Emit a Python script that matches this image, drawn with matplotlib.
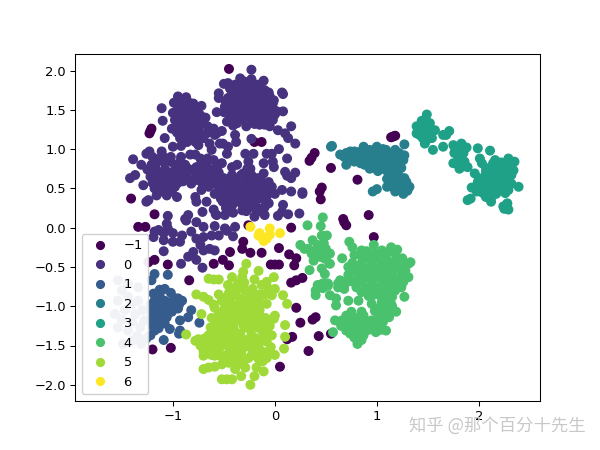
#!/usr/bin/env python3
"""Scatter of 2D points coloured by cluster label (-1 is noise)."""

import matplotlib

matplotlib.use("Agg")

import matplotlib.pyplot as plt
import numpy as np

noise_x = [-1.34, -1.27, -0.26, -0.31, -0.32, -0.24, -0.13, 0.04, 0.14, 0.21, 0.19, -0.04, 0.00, 0.04,
           -0.60, -0.51, -0.45, -0.44, -1.05, -1.18, -1.24, -0.84, 0.16, 0.21, 0.27, 0.21, 0.25, 0.37,
           0.12, 0.17, 0.33, 0.05, -1.02, -1.20, 0.16, -0.45, -1.23, -1.21, -1.22, -0.13, -0.20, -1.41,
           -1.18, 1.16, 1.14, 1.18, 0.39, 0.36, 0.34, 0.55, 0.81, 0.46, 0.44, 0.45, 0.67, 0.68, 0.70,
           0.92, 0.97, 0.40, 0.43, 0.55]
noise_y = [0.01, 0.01, 0.03, -0.18, -0.27, -0.32, -0.32, -0.26, -0.34, -0.39, -0.48, -0.47, -0.47, -0.47,
           -0.46, -0.41, -0.48, -0.31, -0.47, -0.41, -0.44, -0.67, -0.70, -0.67, -0.64, -1.02, -1.21, -1.17,
           -1.42, -1.39, -1.57, -1.77, -1.53, -1.55, 0.00, 2.02, 1.20, 1.26, 1.23, 1.09, 1.09, 0.37,
           0.17, 1.16, 1.15, 1.17, 0.95, 0.89, 0.85, 0.76, 0.61, 0.51, 0.46, 0.36, 0.11, 0.07, 0.03,
           0.16, -0.12, -1.14, -1.38, -1.35]

c0_x = [-0.23, -0.34, -0.23, -0.11, -0.46, -0.50, -0.55, -0.55, 0.07, 0.08, -0.42, -0.33, -0.20, -0.10,
        -0.05, -0.46, -0.36, -0.26, -0.16, -0.06, -0.49, -0.39, -0.29, -0.20, -0.11, 0.02, 0.08, 0.00,
        -0.47, -0.37, -0.28, -0.18, -0.15, -0.05, 0.16, 0.10, 0.13, 0.20, 0.03, -0.26, -0.36,
        -0.95, -0.87, -0.99, -0.80, -0.72, -1.11, -1.00, -1.10, -0.90, -0.83, -0.73, -0.91, -0.82, -0.98,
        -1.01, -0.90, -0.80, -0.70, -0.60, -0.52, -0.59, -0.57, -0.91, -0.82, -1.08, -1.00, -0.92, -0.70,
        -0.64, -0.75, -0.39, -0.38, -0.23, -0.51, -0.54, -0.46, -0.47, 0.04, 0.12, -0.08, -0.03, -0.02,
        -0.01, -0.11, -0.29, -0.21, -0.26, -0.24, -0.42, -0.37, 0.10, 0.20, 0.16, 0.12,
        -1.39, -1.23, -1.26, -1.11, -1.31, -1.37, -1.42, -1.29, -1.21, -1.13, -1.03, -0.93, -0.83, -0.73,
        -0.62, -0.67, -0.59, -0.52, -0.77, -0.85, -0.95, -1.05, -1.14, -1.22, -1.11, -1.01, -0.91, -0.82,
        -0.70, -0.60, -0.50, -0.42, -0.33, -0.23, -0.11, -0.10, -0.03, -0.26, -0.18, -0.36, -0.46, -0.55,
        -0.65, -0.72, -0.98, -1.08, -1.18, -1.16, -1.06, -0.96, -1.24, -1.26, -0.78, -0.77, -0.67, -0.59,
        -0.49, -0.39, -0.29, -0.20, -0.10, 0.00, 0.07, 0.16, 0.27, 0.27, 0.08, 0.07, 0.03, 0.13, 0.24,
        -0.46, -0.51, -0.26, -0.33, -0.10, -0.06, -0.10, -0.60, -0.71, -0.57, -0.49, -0.41, -0.28, -0.18,
        -0.10, -1.05, -1.06, -0.85, -0.88, -0.77, -0.70, -0.59, -0.49, -0.39,
        -0.87, -0.47, -0.41, -1.18, -1.19, -1.09, -1.00, -0.91, -0.82, -1.09, -1.00, -0.93, -0.77, -0.70,
        -0.62, -0.55, -1.09, -0.73, -0.70, -0.80, -0.85, -0.77, -0.92, -0.71, -0.59, -0.64, -1.14, -1.05,
        # dense parts of the lobes and the middle band
        -0.40, -0.30, -0.18, -0.08, -0.48, -0.41, -0.31, -0.21, -0.11, -0.02, -0.44, -0.34, -0.24, -0.15,
        -0.04, -0.42, -0.32, -0.22, -0.10, -0.02, -0.50, -0.28, -0.17, -0.39, -0.01,
        -0.93, -0.85, -0.76, -0.86, -0.96, -0.96, -0.86, -0.76, -0.66, -0.75, -0.85, -0.95, -0.87, -0.77,
        -0.67, -0.57, -0.93,
        -1.17, -1.08, -0.98, -0.88, -1.18, -1.08, -0.99, -0.90, -0.80, -0.72, -0.63, -0.55, -0.66, -0.72,
        -0.66, -0.56, -0.46, -0.38, -0.28, -0.18, -0.14, -0.07, -0.28, -0.38, -0.52, -0.44, -0.34, -0.23,
        -0.15, -0.72, -1.06, -0.95, -1.16, -1.12, -1.01, -0.27, -0.31, -0.17, -0.48, -0.42, -0.53, -0.30,
        -0.20, -0.14, -0.58,
        -0.88, -0.78, -0.68, -0.94, -0.84, -0.74, -0.96, -0.86, -0.78, -1.20, -1.10, -1.02, -0.92, -0.78,
        -0.72, -0.67, -0.60, -0.55, -1.25, -1.16, -1.06, -0.96, -0.86, -0.76, -0.66, -0.58, -1.20, -1.10,
        -1.00, -0.90, -0.79, -0.60, -0.50, -0.42, -0.35, -0.45, -0.33, -0.23, -0.14, -0.06, -0.06, -0.24,
        -0.36, -0.42, -0.30, -0.17, -0.08, -0.21, -0.32, -0.20, -0.30, -0.24, -0.44, -0.36, -0.26, -0.14,
        -0.06, -0.14, -0.24, -0.34, -0.44, -0.31, -0.21, -0.11, -0.02, -0.44, -0.34, -0.24, -0.15, -0.07,
        -0.39, -0.29, -0.19, -0.07, -0.44, -0.31, -0.20, -0.10, -0.41]
c0_y = [2.01, 1.90, 1.89, 1.87, 1.84, 1.83, 1.71, 1.65, 1.72, 1.70, 1.73, 1.77, 1.77, 1.75,
        1.67, 1.65, 1.65, 1.65, 1.65, 1.56, 1.54, 1.52, 1.52, 1.52, 1.46, 1.48, 1.48, 1.44,
        1.35, 1.33, 1.29, 1.39, 1.31, 1.29, 1.29, 1.20, 1.14, 1.07, 1.24, 1.41, 1.41,
        1.67, 1.66, 1.59, 1.58, 1.55, 1.52, 1.46, 1.36, 1.54, 1.50, 1.43, 1.43, 1.39, 1.37,
        1.26, 1.31, 1.29, 1.33, 1.26, 1.23, 1.18, 1.47, 1.20, 1.18, 1.14, 1.03, 1.04, 1.14,
        1.07, 1.05, 1.18, 1.09, 1.13, 1.07, 1.07, 1.03, 0.94, 1.00, 0.88, 0.94, 0.94, 0.84,
        0.77, 0.82, 0.94, 0.94, 0.84, 0.75, 0.77, 0.80, 0.71, 0.70, 0.63, 0.66,
        0.87, 0.97, 0.94, 0.97, 0.80, 0.67, 0.63, 0.54, 0.80, 0.88, 0.84, 0.84, 0.93, 0.88,
        0.99, 0.80, 0.75, 0.82, 0.77, 0.75, 0.73, 0.71, 0.71, 0.65, 0.60, 0.60, 0.65, 0.56,
        0.65, 0.63, 0.63, 0.67, 0.67, 0.67, 0.69, 0.56, 0.52, 0.56, 0.50, 0.56, 0.52, 0.52,
        0.52, 0.48, 0.52, 0.50, 0.50, 0.41, 0.41, 0.39, 0.35, 0.33, 0.39, 0.33, 0.33, 0.43,
        0.41, 0.43, 0.43, 0.41, 0.46, 0.43, 0.48, 0.46, 0.45, 0.43, 0.29, 0.20, 0.15, 0.17, 0.18,
        0.31, 0.33, 0.35, 0.31, 0.35, 0.31, 0.26, 0.23, 0.20, 0.16, 0.16, 0.19, 0.21, 0.20,
        0.16, 0.15, 0.05, 0.16, 0.11, 0.07, 0.01, 0.02, -0.01, 0.01,
        0.09, -0.04, -0.11, -0.05, -0.12, -0.07, -0.07, -0.10, -0.05, -0.16, -0.18, -0.18, -0.14, -0.12,
        -0.10, -0.10, -0.30, -0.22, -0.29, -0.31, -0.37, -0.41, -0.46, -0.51, -0.29, -0.27, -0.03, -0.01,
        1.70, 1.72, 1.71, 1.68, 1.60, 1.59, 1.59, 1.59, 1.59, 1.58, 1.46, 1.47, 1.47, 1.47,
        1.44, 1.36, 1.38, 1.36, 1.36, 1.37, 1.47, 1.80, 1.82, 1.82, 1.62,
        1.60, 1.60, 1.50, 1.45, 1.49, 1.40, 1.36, 1.37, 1.29, 1.25, 1.25, 1.27, 1.16, 1.17,
        1.20, 1.20, 1.14,
        0.80, 0.82, 0.80, 0.80, 0.72, 0.74, 0.71, 0.71, 0.72, 0.78, 0.73, 0.70, 0.88, 0.73,
        0.62, 0.60, 0.58, 0.62, 0.62, 0.60, 0.52, 0.50, 0.50, 0.48, 0.45, 0.40, 0.38, 0.47,
        0.44, 0.58, 0.55, 0.57, 0.58, 0.46, 0.46, 0.75, 0.69, 0.63, 0.25, 0.28, 0.37, 0.27,
        0.30, 0.24, 0.17,
        1.52, 1.46, 1.40, 1.33, 1.32, 1.20, 1.21, 1.09, 1.09, 0.90, 0.91, 0.90, 0.90, 0.93,
        0.82, 0.75, 0.86, 0.80, 0.74, 0.66, 0.66, 0.65, 0.64, 0.66, 0.68, 0.67, 0.57, 0.55,
        0.54, 0.59, 0.60, 0.56, 0.56, 0.52, 0.45, 0.45, 0.52, 0.55, 0.60, 0.58, 0.44, 0.41,
        0.35, 0.35, 0.35, 0.36, 0.40, 0.26, 0.22, 0.14, 1.86, 1.80, 1.77, 1.75, 1.75, 1.78,
        1.72, 1.70, 1.69, 1.70, 1.65, 1.65, 1.65, 1.65, 1.52, 1.55, 1.54, 1.54, 1.54, 1.50,
        1.45, 1.45, 1.45, 1.40, 1.40, 1.41, 1.32, 1.31, 1.30]

c1_x = [-1.05, -1.18, -1.21, -1.08, -1.13, -1.19, -1.54, -1.44, -1.34, -1.54, -1.44, -1.34, -1.57, -1.47,
        -1.37, -1.54, -1.44, -1.32, -1.49, -1.40, -1.31, -1.26, -1.18, -1.08, -0.98, -0.91, -1.14, -1.04,
        -0.95, -1.19, -1.11, -1.01, -1.22, -1.16, -1.08, -1.03, -1.18, -1.22, -1.09, -0.93, -0.85, -0.82,
        -0.93, -0.94, -0.74,
        -1.13, -1.03, -0.94, -1.18, -1.09, -0.99, -1.15, -1.06, -1.22, -1.22, -1.13, -1.02, -1.20, -1.14,
        -1.50, -1.40, -1.50, -1.40, -1.30, -1.28, -1.35,
        -1.10, -1.00, -1.15, -1.05, -0.95, -1.18, -1.12, -1.10]
c1_y = [-0.60, -0.59, -0.67, -0.78, -0.79, -0.84, -0.67, -0.71, -0.76, -0.93, -0.88, -0.93, -1.10, -1.05,
        -1.10, -1.27, -1.31, -1.27, -1.48, -1.44, -1.48, -1.41, -0.93, -0.93, -0.90, -0.93, -1.03, -1.03,
        -1.03, -1.12, -1.12, -1.07, -1.18, -1.20, -1.22, -1.29, -1.31, -1.37, -1.43, -1.18, -1.14, -1.05,
        -1.31, -1.35, -1.21,
        -0.93, -0.95, -0.98, -1.03, -1.06, -1.03, -1.13, -1.14, -1.07, -0.98, -0.85, -0.83, -1.25, -1.28,
        -0.80, -0.97, -1.17, -1.20, -1.05, -1.18, -1.38,
        -0.98, -0.98, -1.05, -1.08, -0.90, -1.13, -1.20, -1.02]

c2_x = [0.56, 0.55, 0.64, 0.70, 0.78, 0.87, 1.00, 1.27, 1.09, 1.18, 0.93, 0.85, 0.75, 0.70, 0.78, 0.88,
        0.96, 1.06, 1.16, 1.26, 1.27, 0.93, 1.01, 1.09, 1.19, 1.14, 1.21, 1.27, 1.13, 1.19, 1.27, 1.32,
        1.18, 1.26, 1.23, 1.00, 0.96, 1.29, 1.09, 1.00, 0.88,
        0.68, 0.74, 0.82, 0.82, 0.91, 0.96, 1.03, 1.06, 1.12, 1.22, 0.92, 1.02, 1.12, 1.22, 0.84, 0.98,
        1.04, 1.14, 1.24, 1.17, 1.24, 1.15, 1.22, 1.30, 1.10, 1.10, 1.16]
c2_y = [1.04, 1.03, 0.93, 0.95, 0.97, 1.03, 1.03, 1.06, 0.99, 0.99, 0.99, 0.95, 0.90, 0.80, 0.84, 0.80,
        0.90, 0.90, 0.90, 0.86, 0.92, 0.75, 0.72, 0.80, 0.80, 0.67, 0.67, 0.63, 0.58, 0.56, 0.54, 0.52,
        0.46, 0.43, 0.51, 0.49, 0.46, 0.58, 0.73, 0.82, 0.92,
        0.90, 0.97, 0.96, 0.88, 0.96, 0.98, 0.96, 1.00, 0.94, 0.95, 0.84, 0.85, 0.85, 0.86, 0.82, 0.76,
        0.78, 0.76, 0.76, 0.62, 0.61, 0.52, 0.49, 0.47, 0.62, 0.52, 0.71]

c3_x = [1.49, 1.52, 1.44, 1.39, 1.39, 1.49, 1.57, 1.45, 1.54, 1.47, 1.55, 1.65, 1.65, 1.71, 1.68, 1.75,
        1.83, 1.88, 1.76, 1.83, 1.75, 1.81, 1.86, 1.89, 1.99, 2.11, 2.01, 2.03, 1.96, 2.16, 2.29, 2.35,
        2.14, 2.24, 2.34, 2.32, 2.04, 2.14, 2.24, 2.04, 2.14, 2.24, 2.32, 2.39, 1.93, 2.01, 2.29, 2.17,
        2.07, 2.12, 1.92, 1.89, 2.27, 2.25, 2.29, 2.24, 2.07,
        1.43, 1.47, 1.52, 1.42, 1.48, 1.44, 2.08, 2.08, 2.19, 2.19, 2.09, 2.19, 2.29, 2.29, 1.99, 1.98,
        2.04, 2.13, 2.20, 2.29, 2.14, 2.22, 2.07, 2.00, 1.80, 1.78, 1.85, 1.80, 1.85, 2.26, 2.28,
        2.02, 2.10, 2.16, 2.22, 2.10, 2.18, 2.26, 2.12, 2.06, 2.26, 1.45, 1.50, 1.41, 1.50, 1.48, 1.77,
        1.80, 1.83, 1.98, 2.08]
c3_y = [1.44, 1.33, 1.31, 1.29, 1.20, 1.22, 1.24, 1.14, 1.14, 1.07, 0.99, 1.03, 1.18, 1.23, 1.18, 1.05,
        1.07, 1.02, 0.95, 0.92, 0.82, 0.75, 0.84, 0.77, 1.01, 0.98, 0.88, 0.82, 0.69, 0.86, 0.88, 0.84,
        0.75, 0.75, 0.73, 0.67, 0.63, 0.63, 0.63, 0.52, 0.50, 0.52, 0.56, 0.52, 0.51, 0.50, 0.48, 0.43,
        0.39, 0.33, 0.37, 0.35, 0.29, 0.24, 0.23, 0.27, 0.71,
        1.24, 1.30, 1.20, 1.18, 1.37, 1.36, 0.56, 0.65, 0.58, 0.68, 0.46, 0.48, 0.60, 0.68, 0.58, 0.46,
        0.44, 0.40, 0.78, 0.78, 0.82, 0.83, 0.76, 0.63, 0.85, 1.01, 0.95, 0.90, 0.78, 0.26, 0.31,
        0.57, 0.60, 0.55, 0.58, 0.70, 0.73, 0.70, 0.44, 0.44, 0.44, 1.27, 1.26, 1.23, 1.17, 1.10, 1.00,
        0.80, 1.02, 0.53, 0.50]

c4_x = [0.47, 0.45, 0.32, 0.46, 0.51, 0.37, 0.25, 0.29, 0.36, 0.46, 0.54, 0.44, 0.38, 0.54, 0.34, 0.46,
        0.49, 0.73, 0.76, 0.66, 0.78, 0.85, 0.97, 1.05, 1.14, 1.20, 1.33, 1.31, 0.90, 0.99, 1.09, 1.19,
        1.27, 1.31, 0.72, 0.80, 0.90, 0.99, 1.09, 1.19, 0.82, 0.91, 1.01, 1.11, 1.21, 0.64, 0.62, 0.80,
        0.90, 0.99, 1.09, 1.24, 1.27, 1.18, 0.47, 0.52, 0.42, 0.40, 0.40, 0.54, 0.60, 0.60, 0.72, 0.82,
        0.95, 1.09, 1.14, 1.19, 1.09, 0.75, 0.85, 1.03, 0.95, 0.59, 0.69, 0.77, 0.87, 1.06, 1.09, 0.99,
        0.91, 0.70, 0.80, 0.87, 0.81, 0.57, 0.65, 1.03, 0.96,
        0.85, 0.95, 1.05, 1.14, 1.24, 0.77, 0.86, 0.96, 1.05, 1.15, 1.25, 0.77, 0.86, 0.96, 1.06, 1.16,
        1.26, 0.85, 0.95, 1.04, 1.13, 1.00, 1.10, 0.93, 1.18, 1.25,
        1.05, 1.10, 1.03, 1.14, 1.12, 1.05, 0.98, 0.80, 0.70, 0.78, 0.85, 0.65, 0.92, 1.00, 1.04, 0.85, 0.74,
        0.42, 0.48, 0.40, 0.50, 0.33, 0.47, 0.50, 0.62, 0.47, 0.52,
        0.90, 1.03, 0.86, 0.76, 0.72, 0.70, 0.68, 1.17, 1.28, 0.92, 1.05, 1.15, 1.20, 1.15, 1.02, 0.88,
        0.75, 0.66, 0.72, 0.92, 0.97, 0.82, 0.85, 0.78]
c4_y = [0.13, 0.02, 0.03, -0.10, -0.10, -0.16, -0.22, -0.27, -0.33, -0.27, -0.33, -0.37, -0.42, -0.46,
        -0.54, -0.52, -0.59, -0.18, -0.25, -0.39, -0.35, -0.29, -0.22, -0.29, -0.25, -0.28, -0.44, -0.46,
        -0.39, -0.39, -0.39, -0.39, -0.50, -0.63, -0.50, -0.50, -0.52, -0.52, -0.52, -0.52, -0.63, -0.63,
        -0.63, -0.63, -0.65, -0.67, -0.76, -0.76, -0.76, -0.76, -0.73, -0.76, -0.88, -0.80, -0.71, -0.71,
        -0.73, -0.80, -0.86, -0.86, -0.90, -0.99, -0.93, -0.93, -0.97, -0.88, -0.97, -1.07, -1.05, -1.07,
        -1.07, -1.10, -1.18, -1.18, -1.20, -1.20, -1.12, -1.20, -1.31, -1.33, -1.29, -1.31, -1.35, -1.37,
        -1.48, -1.33, -0.73, -0.86, -0.86,
        -0.45, -0.45, -0.45, -0.45, -0.45, -0.56, -0.57, -0.57, -0.57, -0.57, -0.58, -0.69, -0.69, -0.69, -0.69, -0.69,
        -0.69, -0.82, -0.81, -0.81, -0.80, -0.33, -0.32, -0.33, -0.33, -0.39,
        -0.95, -0.97, -1.02, -1.05, -1.14, -1.14, -1.06, -1.15, -1.12, -1.28, -1.25, -1.25, -1.22, -1.27, -1.30, -1.32, -1.35,
        -0.22, -0.20, -0.30, -0.27, -0.27, -0.38, -0.40, -0.71, -0.77, -0.74,
        -0.30, -0.36, -0.38, -0.45, -0.60, -0.70, -0.78, -0.45, -0.55, -0.87, -0.90, -0.88, -0.75, -1.00, -1.12, -1.18,
        -1.14, -1.18, -1.25, -1.30, -1.20, -1.25, -1.43, -1.40]

c5_x = [-0.28, -0.31, -0.16, -0.65, -0.55, -0.60, -0.42, -0.20, -0.01, -0.08, -0.13, 0.00, -0.06, -0.77,
        -0.70, -0.65, -0.55, -0.46, -0.36, -0.29, -0.39, -0.49, -0.29, -0.20, -0.03, 0.08, 0.12, -0.08,
        -0.59, -0.49, -0.39, -0.29, -0.20, -0.72, -0.62, -0.52, -0.42, -0.31, -0.20, 0.00, -0.01, -0.10,
        0.10, -0.55, -0.46, -0.29, -0.18, -0.08, -0.03, -0.87, -0.78, -0.73, -0.65, -0.55, -0.44, -0.23,
        -0.13, 0.10, 0.09, -0.62, -0.52, -0.39, -0.28, -0.16, -0.06, 0.00, -0.70, -0.59, -0.46, -0.36,
        -0.23, -0.70, -0.65, -0.59, -0.52, -0.39, -0.29, -0.18, -0.11, -0.52, -0.47, -0.42, -0.33, -0.20,
        -0.24, -0.69, -0.60,
        -0.44, -0.34, -0.24, -0.15, -0.34, -0.44, -0.34, -0.24, -0.15, -0.55, -0.47, -0.36, -0.25, -0.14,
        -0.05, -0.63, -0.50, -0.40, -0.34, -0.24, -0.12, -0.60, -0.70, -0.56, -0.47, -0.38, -0.28, -0.18,
        -0.08, -0.66, -0.55, -0.44, -0.33, -0.22, -0.12, -0.62, -0.50, -0.40, -0.31, -0.16, -0.08, -0.38,
        -0.60, -0.52, -0.40, -0.30, -0.22, -0.32, -0.15,
        -0.38, -0.33, -0.45, -0.25, -0.10, -0.52, -0.42, -0.38, -0.26, -0.15, -0.09, -0.58, -0.41, -0.31,
        -0.20, -0.06, -0.50, -0.67, -0.60, -0.50, -0.36, -0.20, -0.10, -0.57, -0.42, -0.30, -0.18, -0.04,
        -0.53, -0.75, -0.26, -0.12, -0.45, -0.70, -0.35, -0.23]
c5_y = [-0.46, -0.56, -0.55, -0.65, -0.66, -0.66, -0.63, -0.66, -0.63, -0.69, -0.73, -0.78, -0.78, -0.85,
        -0.88, -0.92, -0.85, -0.73, -0.71, -0.80, -0.86, -0.90, -0.93, -0.90, -0.86, -0.86, -0.97, -0.97,
        -1.02, -1.02, -0.99, -1.03, -1.02, -1.10, -1.15, -1.14, -1.12, -1.16, -1.14, -1.12, -1.16, -1.22,
        -1.24, -1.27, -1.27, -1.27, -1.27, -1.31, -1.37, -1.36, -1.44, -1.50, -1.37, -1.39, -1.39, -1.37,
        -1.44, -1.39, -1.54, -1.52, -1.50, -1.52, -1.50, -1.52, -1.58, -1.62, -1.63, -1.63, -1.61, -1.65,
        -1.63, -1.80, -1.78, -1.77, -1.74, -1.80, -1.78, -1.78, -1.83, -1.93, -1.93, -1.93, -1.89, -1.89,
        -2.00, -1.41, -1.46,
        -0.95, -0.90, -0.95, -0.95, -1.00, -1.07, -1.08, -1.08, -1.05, -1.10, -1.18, -1.18, -1.20, -1.17,
        -1.25, -1.27, -1.33, -1.30, -1.35, -1.30, -1.33, -1.35, -1.47, -1.47, -1.47, -1.45, -1.43, -1.44,
        -1.45, -1.55, -1.57, -1.55, -1.58, -1.56, -1.58, -1.62, -1.68, -1.70, -1.70, -1.67, -1.66, -1.76,
        -0.98, -0.93, -0.77, -0.70, -0.78, -0.63, -0.85,
        -0.80, -0.77, -0.83, -0.86, -0.85, -1.08, -1.02, -1.12, -1.14, -1.11, -1.15, -1.21, -1.24, -1.24,
        -1.21, -1.20, -1.24, -1.42, -1.42, -1.42, -1.40, -1.40, -1.39, -1.52, -1.60, -1.52, -1.60, -1.52,
        -1.63, -1.42, -1.66, -1.70, -1.72, -1.57, -1.47, -1.49]

c6_x = [-0.24, -0.15, -0.05, 0.05, -0.13, -0.08, -0.16, -0.05, -0.11]
c6_y = [0.01, -0.07, -0.01, -0.07, -0.12, -0.14, -0.10, -0.09, -0.17]

label_ids = [-1, 0, 1, 2, 3, 4, 5, 6]
xs_by_label = [noise_x, c0_x, c1_x, c2_x, c3_x, c4_x, c5_x, c6_x]
ys_by_label = [noise_y, c0_y, c1_y, c2_y, c3_y, c4_y, c5_y, c6_y]

WATERMARK = "知乎 @那个百分十先生"


def main() -> None:
    x = np.concatenate(xs_by_label)
    y = np.concatenate(ys_by_label)
    labels = np.repeat(label_ids, [len(v) for v in xs_by_label])

    # The reference is a default 640x480 figure shrunk to 600 wide, hence the dpi.
    fig, ax = plt.subplots(figsize=(6.4, 4.8), dpi=93.75)
    scatter = ax.scatter(x, y, c=labels, s=44)
    ax.set_xlim(-1.96, 2.6)
    ax.set_ylim(-2.2, 2.21)
    # The points behind the legend only just show through in the reference.
    ax.legend(*scatter.legend_elements(), loc="lower left", framealpha=0.93)

    # Site watermark, sits in the bottom right margin under the tick labels.
    fig.text(0.976, 0.051, WATERMARK, ha="right", va="center", fontsize=13.3,
             color="#c8c8c8", family=["Noto Sans CJK SC", "DejaVu Sans"])

    fig.savefig("out.png", dpi=93.75)
    plt.close(fig)


if __name__ == "__main__":
    main()
